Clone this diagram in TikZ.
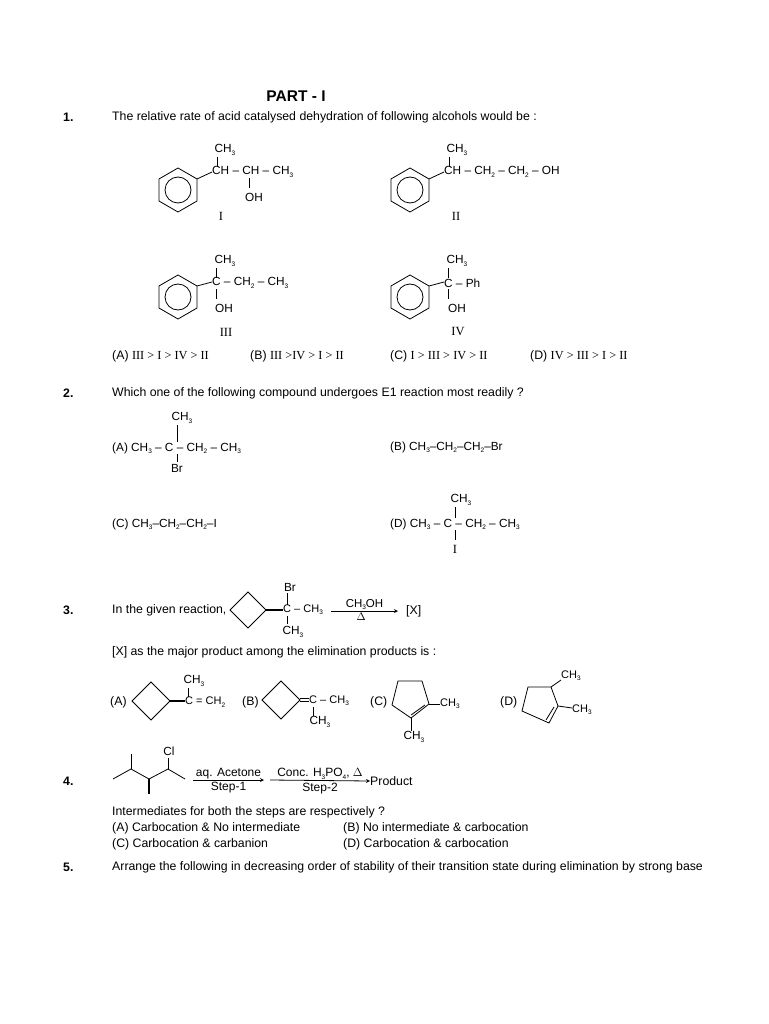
\documentclass[tikz,border=0pt]{standalone}
\usepackage{fontspec}
\setmainfont{Liberation Sans}
\newfontfamily\rmser{Liberation Serif}
\newcommand\ssub[1]{\raisebox{-0.4ex}{\fontsize{6.5}{6.5}\selectfont #1}}
\begin{document}
\begin{tikzpicture}[x=1pt,y=-1pt,
  txt/.style={anchor=west,inner sep=0pt,font=\fontsize{12.3}{13}\selectfont},
  ch/.style={anchor=west,inner sep=0pt,font=\fontsize{11.8}{12}\selectfont},
  chc/.style={inner sep=0pt,font=\fontsize{11.8}{12}\selectfont},
  chs/.style={anchor=west,inner sep=0pt,font=\fontsize{11}{12}\selectfont},
  rom/.style={inner sep=0pt,font=\rmser\fontsize{12.5}{13}\selectfont},
  num/.style={anchor=west,inner sep=0pt,font=\bfseries\fontsize{12.3}{13}\selectfont},
  bond/.style={line width=0.8pt},
  arr/.style={line width=0.8pt,-stealth}]
\useasboundingbox (0,0) rectangle (768,1024);
\fill[white] (0,0) rectangle (768,1024);
\newcommand\benz[2]{\draw[bond] (#1,#2) +(30:22) -- +(90:22) -- +(150:22) -- +(210:22) -- +(270:22) -- +(330:22) -- cycle; \draw[bond] (#1,#2) circle (13);}
\node[inner sep=0pt,font=\bfseries\fontsize{15.5}{17}\selectfont] (title) at (296,96) {PART - I};
\node[num] (n1) at (63,117) {1.};
\node[txt] (q1) at (112,117) {The relative rate of acid catalysed dehydration of following alcohols would be :};
% I
\benz{178}{190}
\draw[bond] (197,179) -- (212,172);
\node[ch] (s1) at (212,172) {CH -- CH -- CH\ssub{3}};
\node[chc] (s1m) at (225,150) {CH\ssub{3}};
\draw[bond] (217,157) -- (217,167);
\draw[bond] (249,178) -- (249,188);
\node[chc] (s1o) at (254,197) {OH};
\node[rom] (l1) at (221,216) {I};
% II
\benz{410}{190}
\draw[bond] (429,179) -- (444,172);
\node[ch] (s2) at (444,172) {CH -- CH\ssub{2} -- CH\ssub{2} -- OH};
\node[chc] (s2m) at (457,150) {CH\ssub{3}};
\draw[bond] (449,157) -- (449,167);
\node[rom] (l2) at (456,216) {II};
% III
\benz{178}{297}
\draw[bond] (197,286) -- (212,282);
\node[ch] (s3) at (212,283) {C -- CH\ssub{2} -- CH\ssub{3}};
\node[chc] (s3m) at (225,261) {CH\ssub{3}};
\draw[bond] (216,268) -- (216,278);
\draw[bond] (216,289) -- (216,299);
\node[chc] (s3o) at (224,308) {OH};
\node[rom] (l3) at (226,332) {III};
% IV
\benz{410}{297}
\draw[bond] (429,286) -- (444,282);
\node[ch] (s4) at (444,283) {C -- Ph};
\node[chc] (s4m) at (457,261) {CH\ssub{3}};
\draw[bond] (448,268) -- (448,278);
\draw[bond] (448,289) -- (448,299);
\node[chc] (s4o) at (457,308) {OH};
\node[rom] (l4) at (458,332) {IV};
\node[txt] (o1a) at (112,356) {(A) {\rmser III > I > IV > II}};
\node[txt] (o1b) at (250,356) {(B) {\rmser III >IV > I > II}};
\node[txt] (o1c) at (390,356) {(C) {\rmser I > III > IV > II}};
\node[txt] (o1d) at (530,356) {(D) {\rmser IV > III > I > II}};
% Q2
\node[num] (n2) at (63,393) {2.};
\node[txt] (q2) at (112,393) {Which one of the following compound undergoes E1 reaction most readily ?};
\node[ch] (a2) at (112,448) {(A) CH\ssub{3} -- C -- CH\ssub{2} -- CH\ssub{3}};
\node[chc] (a2m) at (182,418) {CH\ssub{3}};
\draw[bond] (177,425) -- (177,442);
\draw[bond] (177,454) -- (177,462);
\node[chc] (a2b) at (177,468) {Br};
\node[ch] (b2) at (390,447) {(B) CH\ssub{3}--CH\ssub{2}--CH\ssub{2}--Br};
\node[ch] (c2) at (112,524) {(C) CH\ssub{3}--CH\ssub{2}--CH\ssub{2}--I};
\node[ch] (d2) at (390,524) {(D) CH\ssub{3} -- C -- CH\ssub{2} -- CH\ssub{3}};
\node[chc] (d2m) at (461,500) {CH\ssub{3}};
\draw[bond] (455,507) -- (455,518);
\draw[bond] (455,530) -- (455,540);
\node[rom] (d2i) at (455,549) {I};
% Q3
\node[num] (n3) at (63,610) {3.};
\node[txt] (q3) at (112,610) {In the given reaction,};
\draw[bond] (230,610) -- (248,592) -- (266,610) -- (248,628) -- cycle;
\draw[line width=1.5pt] (266,610) -- (283,610);
\node[chs] (c3) at (283,610) {C -- CH\ssub{3}};
\node[chc] (c3b) at (290,587) {Br};
\draw[bond] (287,593) -- (287,605);
\draw[bond] (287,616) -- (287,624);
\node[chc] (c3m) at (293,632) {CH\ssub{3}};
\coordinate (a3s) at (331,611);
\node[txt] (x3) at (406,611) {[X]};
\draw[arr] (a3s) -- ([xshift=-8pt]x3.west) node[pos=0.5,above=1pt,inner sep=0pt,font=\fontsize{11.5}{12}\selectfont]{CH\ssub{3}OH} node[pos=0.45,below=2pt,inner sep=0pt,font=\rmser\fontsize{10.5}{12}\selectfont]{$\Delta$};
\node[txt] (q3b) at (112,652) {[X] as the major product among the elimination products is :};
% options
\node[txt] (o3a) at (110,702) {(A)};
\draw[bond] (132,701) -- (151,682) -- (170,701) -- (151,720) -- cycle;
\draw[line width=1.5pt] (170,701) -- (185,701);
\node[chs] (o3ac) at (185,702) {C = CH\ssub{2}};
\node[chc] (o3am) at (194,681) {CH\ssub{3}};
\draw[bond] (188,688) -- (188,697);
\node[txt] (o3b) at (242,702) {(B)};
\draw[bond] (262,700) -- (281,681) -- (300,700) -- (281,719) -- cycle;
\draw[bond] (300,698.5) -- (309,698.5); \draw[bond] (300,701.5) -- (309,701.5);
\node[chs] (o3bc) at (309,701) {C -- CH\ssub{3}};
\draw[bond] (313,707) -- (313,716);
\node[chc] (o3bm) at (320,722) {CH\ssub{3}};
\node[txt] (o3c) at (370,702) {(C)};
\draw[bond] (398,681) -- (422,681) -- (429,704) -- (411,718) -- (392,705) -- cycle;
\draw[bond] (425,705) -- (411,715);
\draw[bond] (429,704) -- (440,704);
\node[chs] (o3cr) at (440,704) {CH\ssub{3}};
\draw[bond] (411,718) -- (411,731);
\node[chc] (o3cm) at (414,737) {CH\ssub{3}};
\node[txt] (o3d) at (500,702) {(D)};
\draw[bond] (528,687) -- (551,687) -- (558,706) -- (549,723) -- (522,711) -- cycle;
\draw[bond] (554,707) -- (546,720);
\draw[bond] (551,687) -- (561,680);
\node[chs] (o3dm) at (561,676) {CH\ssub{3}};
\draw[bond] (558,706) -- (572,708);
\node[chs] (o3dr) at (572,710) {CH\ssub{3}};
% Q4
\node[num] (n4) at (63,781) {4.};
\draw[bond] (113,779) -- (131,769) -- (149,779) -- (168,769) -- (185,779);
\draw[bond] (131,769) -- (131,754);
\draw[line width=1.3pt] (149,779) -- (149,794);
\draw[bond] (168,769) -- (168,758);
\node[chc] (cl) at (169,751) {Cl};
\coordinate (a4s) at (193,780);
\coordinate (a4m) at (264,780);
\coordinate (a4n) at (270,780);
\node[txt] (prod) at (370,781) {Product};
\draw[arr] (a4s) -- (a4m) node[pos=0.5,above=1pt,inner sep=0pt,font=\fontsize{12}{12}\selectfont]{aq. Acetone} node[pos=0.5,below=2pt,inner sep=0pt,font=\fontsize{12}{12}\selectfont]{Step-1};
\draw[arr] (a4n) -- (prod.west) node[pos=0.5,above=1pt,inner sep=0pt,font=\fontsize{12}{12}\selectfont]{Conc. H\ssub{3}PO\ssub{4}, $\Delta$} node[pos=0.5,below=2pt,inner sep=0pt,font=\fontsize{12}{12}\selectfont]{Step-2};
\node[txt] (q4) at (112,812) {Intermediates for both the steps are respectively ?};
\node[txt] (o4a) at (112,828) {(A) Carbocation \& No intermediate};
\node[txt] (o4b) at (343,828) {(B) No intermediate \& carbocation};
\node[txt] (o4c) at (112,844) {(C) Carbocation \& carbanion};
\node[txt] (o4d) at (343,844) {(D) Carbocation \& carbocation};
\node[num] (n5) at (63,867) {5.};
\node[txt] (q5) at (112,867) {Arrange the following in decreasing order of stability of their transition state during elimination by strong base};
\end{tikzpicture}
\end{document}
